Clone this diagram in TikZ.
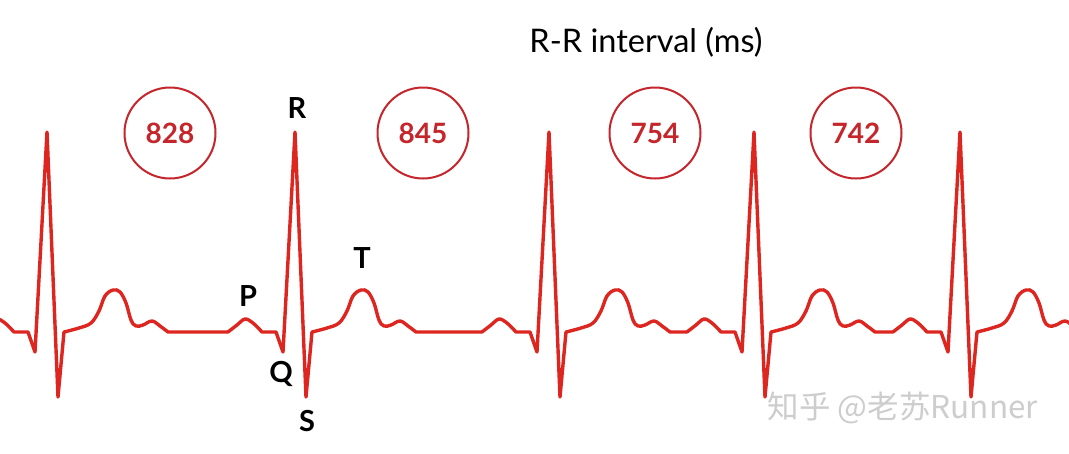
\documentclass[tikz,border=0pt]{standalone}
\usepackage{fontspec}
\setmainfont{Lato}
\newfontfamily\cjk{Noto Sans CJK SC}
\definecolor{ecgred}{RGB}{222,38,33}
\definecolor{circred}{RGB}{196,38,44}
\definecolor{wmgray}{RGB}{205,205,205}
\begin{document}
\begin{tikzpicture}[x=1pt,y=-1pt,
  ecg/.style={draw=ecgred,line width=3.4pt,line join=round,line cap=round},
  rr/.style={circle,draw=circred,line width=2pt,minimum size=91pt,inner sep=0pt,
    text=circred,font=\fontsize{28}{30}\selectfont\bfseries},
  wave/.style={font=\fontsize{29}{32}\selectfont\bfseries,inner sep=0pt,text=black}]
\useasboundingbox (0,0) rectangle (1069,453);
\fill[white] (0,0) rectangle (1069,453);
\begin{scope}
\clip (0,0) rectangle (1069,453);
\foreach \r/\n in {47/295,295/549,549/754,754/960,960/1300}{
  \draw[ecg] plot[smooth,tension=.55] coordinates {(\r-67,332) (\r-58,325) (\r-50,319) (\r-42,323) (\r-33,332)}
    -- (\r-19,332) -- (\r-12,352) -- (\r,132) -- (\r+11,397) -- (\r+17,332)
    -- plot[smooth,tension=.6] coordinates {(\r+17,332) (\r+32,328) (\r+44,323) (\r+52,311) (\r+58,296) (\r+66,290) (\r+73,292) (\r+79,303) (\r+84,320) (\r+89,326) (\r+96,325) (\r+105,321) (\r+113,326) (\r+121,332)}
    -- (\n-67,332);
}
\end{scope}
\node[rr] (c1) at (170,133) {828};
\node[rr] (c2) at (423,133) {845};
\node[rr] (c3) at (655,133) {754};
\node[rr] (c4) at (856,133) {742};
\node[font=\fontsize{32.5}{35}\selectfont,inner sep=0pt] (title) at (646,42) {R-R interval (ms)};
\node[wave] (R) at (297,108) {R};
\node[wave] (P) at (248,296) {P};
\node[wave] (Q) at (281,374) {Q};
\node[wave] (S) at (307,421) {S};
\node[wave] (T) at (362,258) {T};
\node[font=\fontsize{31.5}{33}\selectfont\cjk,text=wmgray,inner sep=0pt] (wm) at (903,408) {知乎 @老苏Runner};
\end{tikzpicture}
\end{document}
